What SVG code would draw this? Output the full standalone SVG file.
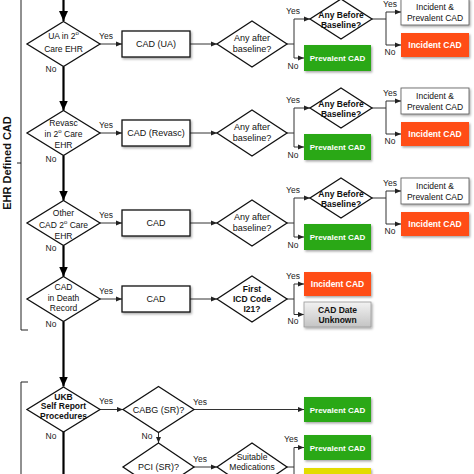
<svg xmlns="http://www.w3.org/2000/svg" width="474" height="474" viewBox="0 0 474 474">
<defs>
<marker id="a" markerUnits="userSpaceOnUse" markerWidth="6" markerHeight="6" refX="6" refY="3" orient="auto"><path d="M0,0.5 L6,3 L0,5.5 z" fill="#222"/></marker>
<marker id="A" markerUnits="userSpaceOnUse" markerWidth="10" markerHeight="9" refX="10" refY="4.5" orient="auto"><path d="M0,0 L10,4.5 L0,9 z" fill="#000"/></marker>
<filter id="sh" x="-10%" y="-10%" width="130%" height="140%"><feDropShadow dx="1.2" dy="1.5" stdDeviation="0.8" flood-color="#000" flood-opacity="0.35"/></filter>
<linearGradient id="gr" x1="0" y1="0" x2="0" y2="1"><stop offset="0" stop-color="#f2f2f2"/><stop offset="1" stop-color="#c4c4c4"/></linearGradient>
<style>
text{font-family:"Liberation Sans",Arial,sans-serif;text-anchor:middle;fill:#111}
.d{fill:#fff;stroke:#111;stroke-width:1.3}
.b{fill:#fff;stroke:#111;stroke-width:1.3;filter:url(#sh)}
.w{fill:#fff;stroke:#555;stroke-width:0.8;filter:url(#sh)}
.g{fill:#2aa812;filter:url(#sh)}
.r{fill:#ff4d12;filter:url(#sh)}
.y{fill:#e3dc00;filter:url(#sh)}
.gy{fill:url(#gr);stroke:#999;stroke-width:0.8;filter:url(#sh)}
.t{font-size:8.5px}
.t9{font-size:9px}
.bt{font-size:8.5px;font-weight:bold}
.wt{font-size:8.5px;font-weight:bold;fill:#fff}
.gt{font-size:8px;font-weight:bold;fill:#fff}
.l{font-size:8.5px;fill:#222}
.c{fill:none;stroke:#333;stroke-width:1}
.s{fill:none;stroke:#000;stroke-width:2.2}
.br{fill:none;stroke:#222;stroke-width:1}
</style>
</defs>

<g id="connectors">
<path class="s" d="M63.5,-2V21" marker-end="url(#A)"/>
<path class="s" d="M63.5,66.5V110.5" marker-end="url(#A)"/>
<path class="s" d="M63.5,155.5V200.5" marker-end="url(#A)"/>
<path class="s" d="M63.5,245.5V276.5" marker-end="url(#A)"/>
<path class="s" d="M63.5,321.5V386.5" marker-end="url(#A)"/>
<path class="s" d="M63.5,432V476"/>
<path class="c" d="M100,44H122" marker-end="url(#a)"/>
<path class="c" d="M190,44H217" marker-end="url(#a)"/>
<path class="c" d="M287,44H294M294,19V58"/>
<path class="c" d="M294,19H310" marker-end="url(#a)"/>
<path class="c" d="M294,58H304" marker-end="url(#a)"/>
<path class="c" d="M372,19H386M386,12V45"/>
<path class="c" d="M386,12H401" marker-end="url(#a)"/>
<path class="c" d="M386,45H401" marker-end="url(#a)"/>
<path class="c" d="M100,133H122" marker-end="url(#a)"/>
<path class="c" d="M190,133H217" marker-end="url(#a)"/>
<path class="c" d="M287,133H294M294,108V147"/>
<path class="c" d="M294,108H310" marker-end="url(#a)"/>
<path class="c" d="M294,147H304" marker-end="url(#a)"/>
<path class="c" d="M372,108H386M386,101V134"/>
<path class="c" d="M386,101H401" marker-end="url(#a)"/>
<path class="c" d="M386,134H401" marker-end="url(#a)"/>
<path class="c" d="M100,223H122" marker-end="url(#a)"/>
<path class="c" d="M190,223H217" marker-end="url(#a)"/>
<path class="c" d="M287,223H294M294,198V237"/>
<path class="c" d="M294,198H310" marker-end="url(#a)"/>
<path class="c" d="M294,237H304" marker-end="url(#a)"/>
<path class="c" d="M372,198H386M386,191V224"/>
<path class="c" d="M386,191H401" marker-end="url(#a)"/>
<path class="c" d="M386,224H401" marker-end="url(#a)"/>
<path class="c" d="M100,299H122" marker-end="url(#a)"/>
<path class="c" d="M190,299H217" marker-end="url(#a)"/>
<path class="c" d="M287,299H294M294,284V314.5"/>
<path class="c" d="M294,284H304" marker-end="url(#a)"/>
<path class="c" d="M294,314.5H304" marker-end="url(#a)"/>
<path class="c" d="M100,409.5H123" marker-end="url(#a)"/>
<path class="c" d="M194,409.5H304" marker-end="url(#a)"/>
<path class="c" d="M158.5,432.5V443" marker-end="url(#a)"/>
<path class="c" d="M194,467H217" marker-end="url(#a)"/>
<path class="c" d="M287,467H294M294,447.5V476"/>
<path class="c" d="M294,447.5H304" marker-end="url(#a)"/>
<path class="br" d="M28,-2H21V330H28M21,163H17"/>
<path class="br" d="M28,382H21V476"/>
<text class="l" x="106" y="39">Yes</text>
<text class="l" x="51" y="72">No</text>
<text class="l" x="293" y="14">Yes</text>
<text class="l" x="293" y="69">No</text>
<text class="l" x="390" y="7">Yes</text>
<text class="l" x="390" y="55">No</text>
<text class="l" x="106" y="128">Yes</text>
<text class="l" x="51" y="162">No</text>
<text class="l" x="293" y="103">Yes</text>
<text class="l" x="293" y="158">No</text>
<text class="l" x="390" y="96">Yes</text>
<text class="l" x="390" y="144">No</text>
<text class="l" x="106" y="218">Yes</text>
<text class="l" x="51" y="251">No</text>
<text class="l" x="293" y="193">Yes</text>
<text class="l" x="293" y="248">No</text>
<text class="l" x="390" y="186">Yes</text>
<text class="l" x="390" y="234">No</text>
<text class="l" x="106" y="294">Yes</text>
<text class="l" x="51" y="327">No</text>
<text class="l" x="293" y="279">Yes</text>
<text class="l" x="293" y="324">No</text>
<text class="l" x="106" y="404">Yes</text>
<text class="l" x="51" y="439">No</text>
<text class="l" x="200" y="405">Yes</text>
<text class="l" x="147" y="439">No</text>
<text class="l" x="200" y="462">Yes</text>
<text class="l" x="291" y="442">Yes</text>
</g>

<g id="label-ehr"><text transform="translate(11,163) rotate(-90)" style="font-size:11px;font-weight:bold">EHR Defined CAD</text></g>

<g id="ua"><path class="d" d="M63.5,21.5L100,44L63.5,66.5L27,44Z"/><text class="t" x="63.5" y="38.5">UA in 2<tspan dy="-4" font-size="6">o</tspan></text><text class="t" x="63.5" y="51.5">Care EHR</text></g>
<g id="cad-ua"><rect class="b" x="122" y="31" width="68" height="26"/><text class="t9" x="156" y="47">CAD (UA)</text></g>
<g id="after1"><path class="d" d="M252,21L287,44L252,67L217,44Z"/><text class="t9" x="252" y="40.5">Any after</text><text class="t9" x="252" y="51.5">baseline?</text></g>
<g id="before1"><path class="d" d="M341,-1L372,19L341,39L310,19Z"/><text class="bt" x="341" y="18">Any Before</text><text class="bt" x="341" y="27.5">Baseline?</text></g>
<g id="ip1"><rect class="w" x="401" y="-1" width="68" height="26"/><text class="t" x="435" y="9.5">Incident &amp;</text><text class="t" x="435" y="20.5">Prevalent CAD</text></g>
<g id="inc1"><rect class="r" x="401" y="33" width="68" height="24"/><text class="wt" x="435" y="48">Incident CAD</text></g>
<g id="prev1"><rect class="g" x="304" y="45" width="67" height="26"/><text class="gt" x="337.5" y="61">Prevalent CAD</text></g>

<g id="revasc"><path class="d" d="M63.5,110.5L100,133L63.5,155.5L27,133Z"/><text class="t" x="63.5" y="125.5">Revasc</text><text class="t" x="63.5" y="136.5">in 2<tspan dy="-4" font-size="6">o</tspan><tspan dy="4"> Care</tspan></text><text class="t" x="63.5" y="147.5">EHR</text></g>
<g id="cad-revasc"><rect class="b" x="122" y="120" width="68" height="26"/><text class="t9" x="156" y="136">CAD (Revasc)</text></g>
<g id="after2"><path class="d" d="M252,110L287,133L252,156L217,133Z"/><text class="t9" x="252" y="129.5">Any after</text><text class="t9" x="252" y="140.5">baseline?</text></g>
<g id="before2"><path class="d" d="M341,88L372,108L341,128L310,108Z"/><text class="bt" x="341" y="107">Any Before</text><text class="bt" x="341" y="116.5">Baseline?</text></g>
<g id="ip2"><rect class="w" x="401" y="88" width="68" height="26"/><text class="t" x="435" y="98.5">Incident &amp;</text><text class="t" x="435" y="109.5">Prevalent CAD</text></g>
<g id="inc2"><rect class="r" x="401" y="122" width="68" height="24"/><text class="wt" x="435" y="137">Incident CAD</text></g>
<g id="prev2"><rect class="g" x="304" y="134" width="67" height="26"/><text class="gt" x="337.5" y="150">Prevalent CAD</text></g>

<g id="other"><path class="d" d="M63.5,200.5L100,223L63.5,245.5L27,223Z"/><text class="t" x="63.5" y="215.5">Other</text><text class="t" x="63.5" y="227.5">CAD 2<tspan dy="-4" font-size="6">o</tspan><tspan dy="4"> Care</tspan></text><text class="t" x="63.5" y="238.5">EHR</text></g>
<g id="cad-other"><rect class="b" x="122" y="210" width="68" height="26"/><text class="t9" x="156" y="226">CAD</text></g>
<g id="after3"><path class="d" d="M252,200L287,223L252,246L217,223Z"/><text class="t9" x="252" y="219.5">Any after</text><text class="t9" x="252" y="230.5">baseline?</text></g>
<g id="before3"><path class="d" d="M341,178L372,198L341,218L310,198Z"/><text class="bt" x="341" y="197">Any Before</text><text class="bt" x="341" y="206.5">Baseline?</text></g>
<g id="ip3"><rect class="w" x="401" y="178" width="68" height="26"/><text class="t" x="435" y="188.5">Incident &amp;</text><text class="t" x="435" y="199.5">Prevalent CAD</text></g>
<g id="inc3"><rect class="r" x="401" y="212" width="68" height="24"/><text class="wt" x="435" y="227">Incident CAD</text></g>
<g id="prev3"><rect class="g" x="304" y="224" width="67" height="26"/><text class="gt" x="337.5" y="240">Prevalent CAD</text></g>

<g id="death"><path class="d" d="M63.5,276.5L100,299L63.5,321.5L27,299Z"/><text class="t" x="63.5" y="290">CAD</text><text class="t" x="63.5" y="300.5">in Death</text><text class="t" x="63.5" y="310.5">Record</text></g>
<g id="cad-death"><rect class="b" x="122" y="286" width="68" height="26"/><text class="t9" x="156" y="302">CAD</text></g>
<g id="icd"><path class="d" d="M252,276L287,299L252,322L217,299Z"/><text class="bt" x="252" y="292">First</text><text class="bt" x="252" y="302">ICD Code</text><text class="bt" x="252" y="311.5">I21?</text></g>
<g id="inc4"><rect class="r" x="304" y="272" width="67" height="24"/><text class="wt" x="337.5" y="287">Incident CAD</text></g>
<g id="unknown"><rect class="gy" x="304" y="302" width="67" height="25"/><text class="bt" x="337.5" y="313">CAD Date</text><text class="bt" x="337.5" y="322.5">Unknown</text></g>

<g id="ukb"><path class="d" d="M63.5,387L100,409.5L63.5,432L27,409.5Z"/><text class="bt" x="63.5" y="399.5">UKB</text><text class="bt" x="63.5" y="409">Self Report</text><text class="bt" x="63.5" y="418.5">Procedures</text></g>
<g id="cabg"><path class="d" d="M158.5,386.5L194,409.5L158.5,432.5L123,409.5Z"/><text class="t9" x="158.5" y="412.5">CABG (SR)?</text></g>
<g id="prev5"><rect class="g" x="304" y="397" width="67" height="25"/><text class="gt" x="337.5" y="412.5">Prevalent CAD</text></g>
<g id="pci"><path class="d" d="M158.5,443L194,467L158.5,491L123,467Z"/><text class="t9" x="158.5" y="470">PCI (SR)?</text></g>
<g id="meds"><path class="d" d="M252,443L287,467L252,491L217,467Z"/><text class="t" x="252" y="460">Suitable</text><text class="t" x="252" y="470">Medications</text></g>
<g id="prev6"><rect class="g" x="304" y="435" width="67" height="25"/><text class="gt" x="337.5" y="450.5">Prevalent CAD</text></g>
<g id="yellow"><rect class="y" x="304" y="468" width="67" height="26"/></g>
</svg>
